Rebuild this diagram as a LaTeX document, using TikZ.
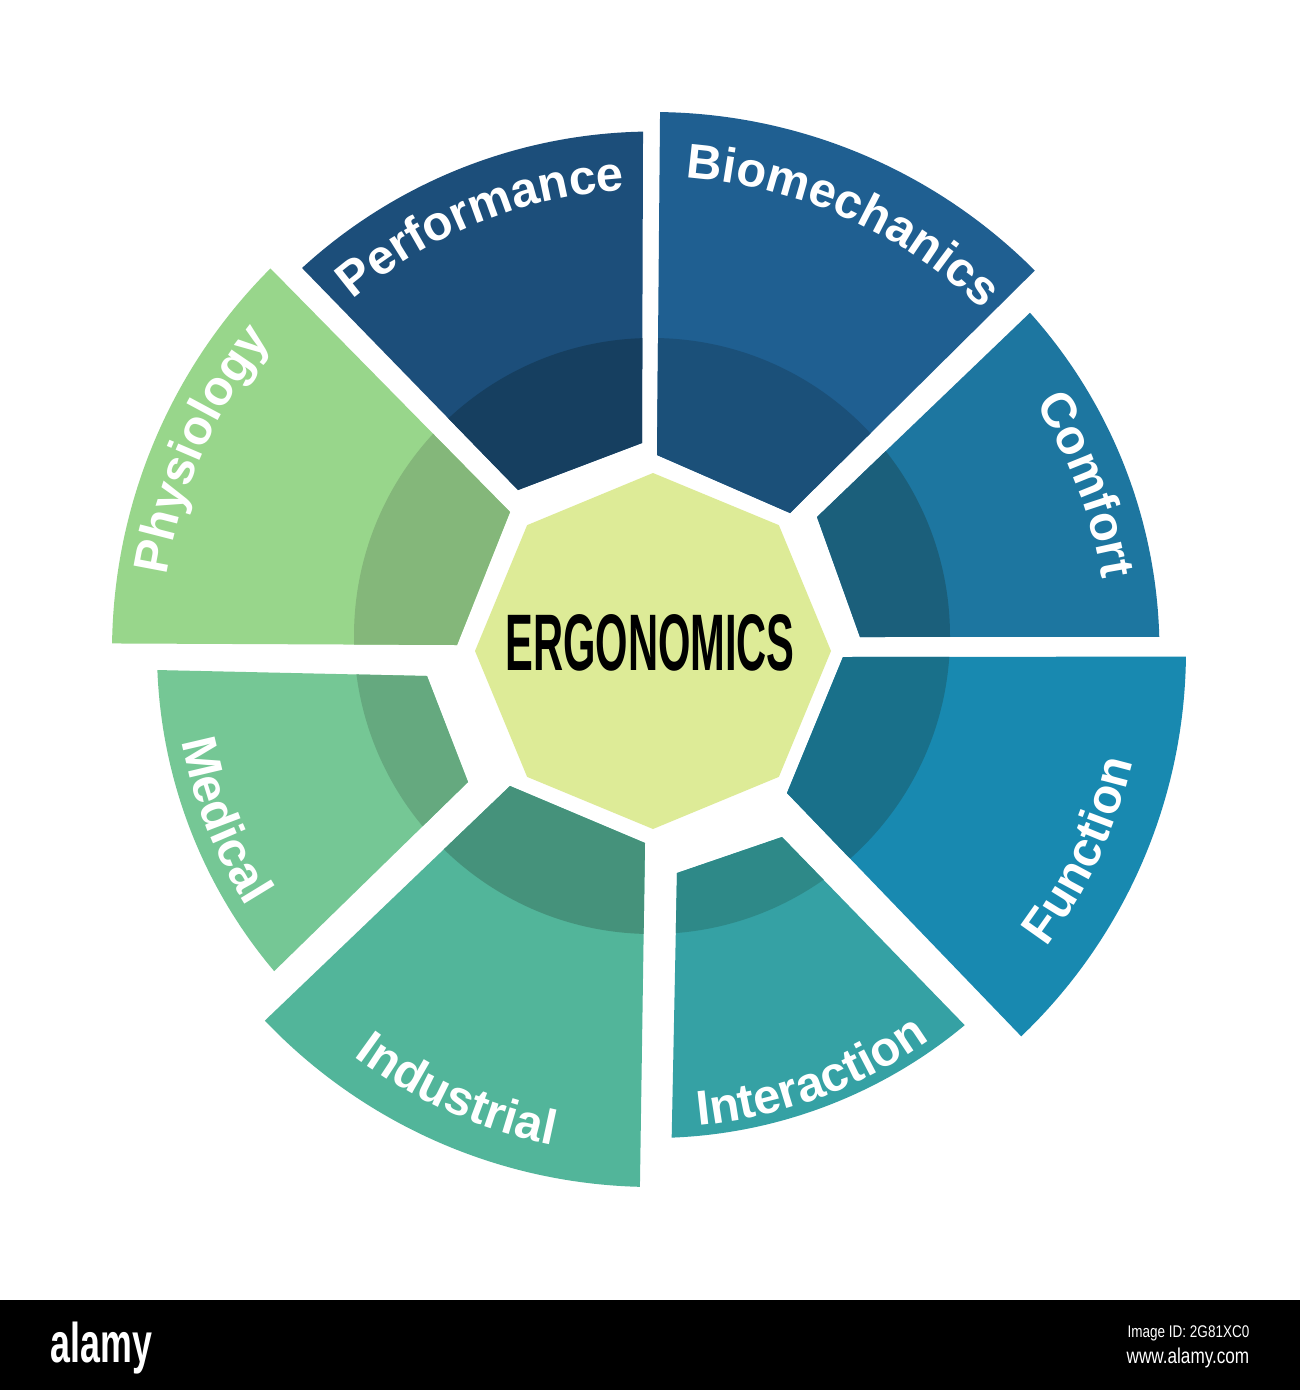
\documentclass[tikz,border=0pt]{standalone}
\usepackage{fontspec}
\usepackage{graphicx}
\setmainfont{Liberation Sans}
\usetikzlibrary{decorations.text}
\definecolor{physL}{HTML}{98D68B}\definecolor{physD}{HTML}{84B77A}
\definecolor{perfL}{HTML}{1C4E7A}\definecolor{perfD}{HTML}{163F60}
\definecolor{bioL}{HTML}{1F5F91}\definecolor{bioD}{HTML}{1B5079}
\definecolor{comL}{HTML}{1D76A0}\definecolor{comD}{HTML}{1B5F7B}
\definecolor{funL}{HTML}{1889B0}\definecolor{funD}{HTML}{19708A}
\definecolor{intL}{HTML}{35A1A4}\definecolor{intD}{HTML}{2E8988}
\definecolor{indL}{HTML}{52B59A}\definecolor{indD}{HTML}{45927B}
\definecolor{medL}{HTML}{75C795}\definecolor{medD}{HTML}{65A97F}
\definecolor{octC}{HTML}{DDEB97}
\newcommand\lbl{\fontsize{13.9}{16}\selectfont\bfseries}
% #1 inner corner, #2 #3 outer angles, #4 outer radius, #5 inner corner, #6 light, #7 dark
\newcommand\seg[7]{%
  \fill[#6] #1 -- (#2:#4) arc[start angle=#2, end angle=#3, radius=#4] -- #5 -- cycle;
  \begin{scope}
    \clip #1 -- (#2:#4) arc[start angle=#2, end angle=#3, radius=#4] -- #5 -- cycle;
    \fill[#7] (-1,15) circle[radius=298];
  \end{scope}}
\tikzset{
  toplabel/.style={decorate, decoration={text along path, text align=center, text color=white, text={|\lbl|#1}}},
}
\begin{document}
\begin{tikzpicture}[x=0.01cm,y=0.01cm]
\useasboundingbox (0,0) rectangle (1300,-1390);
\fill[white] (0,0) rectangle (1300,-1390);
\fill[black] (0,-1300) rectangle (1300,-1390);
\begin{scope}[shift={(653,-651)}]
  \seg{(-196,6)}{179.2}{135}{541}{(-143,139)}{physL}{physD}
  \seg{(-135,161)}{132.5}{91.1}{519.5}{(-11,208)}{perfL}{perfD}
  \seg{(4,196)}{89.25}{44.9}{539}{(137,138)}{bioL}{bioD}
  \seg{(164,134)}{41.9}{1.6}{506.5}{(207,14)}{comL}{comD}
  \seg{(190,-6)}{-0.6}{-46.3}{533}{(134,-142)}{funL}{funD}
  \seg{(129,-186)}{-50.2}{-87.8}{487}{(24,-222)}{intL}{intD}
  \seg{(-8,-192)}{-91.4}{-136.4}{536}{(-143,-135)}{indL}{indD}
  \seg{(-185,-131)}{220.2}{182.2}{496}{(-226,-25)}{medL}{medD}
  % central octagon
  \fill[octC] (0:178) -- (45:178) -- (90:178) -- (135:178) -- (180:178)
    -- (225:178) -- (270:178) -- (315:178) -- cycle;
  \node[inner sep=0, font=\fontsize{22.8}{26}\selectfont\bfseries, text=black] (title) at (-3,8)
    {\scalebox{0.52}[1]{ERGONOMICS}};
  % labels, top half (clockwise, tops outward)
  \path[toplabel=Performance] (137:462) arc[start angle=137, end angle=87, radius=462];
  \path[toplabel=Biomechanics] (92:474) arc[start angle=92, end angle=40, radius=474];
  \path[toplabel=Comfort] (46:455) arc[start angle=46, end angle=-4, radius=455];
  \path[toplabel=Physiology] (181:492) arc[start angle=181, end angle=131, radius=492];
  % labels, bottom half (counter-clockwise, tops inward)
  \path[toplabel=Function] (-50:492) arc[start angle=-50, end angle=0, radius=492];
  \path[toplabel=Interaction] (-95:477) arc[start angle=-95, end angle=-44, radius=477];
  \path[toplabel=Industrial] (-139:504) arc[start angle=-139, end angle=-89, radius=504];
  \path[toplabel=Medical] (176:480) arc[start angle=176, end angle=227, radius=480];
\end{scope}
\node[anchor=base west, text=white, inner sep=0, font=\fontsize{15.9}{18}\selectfont\bfseries] (logo) at (50,-1362)
  {\scalebox{0.64}[1]{alamy}};
\node[anchor=east, text=white, inner sep=0, font=\fontsize{4.8}{6}\selectfont] (imgid) at (1250,-1333)
  {\scalebox{0.8}[1]{Image ID: 2G81XC0}};
\node[anchor=east, text=white, inner sep=0, font=\fontsize{6.1}{7}\selectfont] (url) at (1250,-1358)
  {\scalebox{0.8}[1]{www.alamy.com}};
\end{tikzpicture}
\end{document}
